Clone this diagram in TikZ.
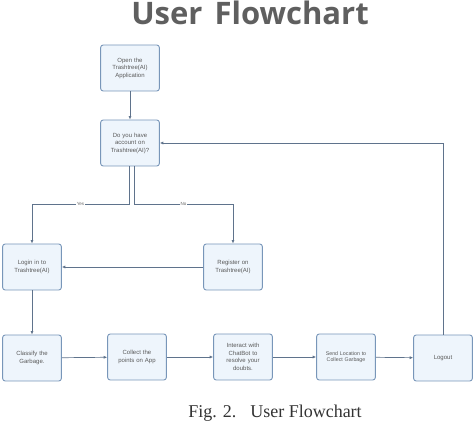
\documentclass[tikz,border=0pt]{standalone}
\usepackage{fontspec}
\setmainfont{Liberation Serif}
\newfontfamily\boxfont{Liberation Sans}
\newfontfamily\titlefont{Open Sans}
\usetikzlibrary{arrows.meta}
\definecolor{boxline}{RGB}{120,150,185}
\definecolor{boxfill}{RGB}{238,245,252}
\definecolor{wire}{RGB}{95,115,140}
\definecolor{titlegray}{RGB}{95,95,95}
\begin{document}
\begin{tikzpicture}[x=1pt,y=-1pt,
    stepbox/.style={draw=boxline,fill=boxfill,line width=0.9pt,rounded corners=2.5pt,
      minimum width=56pt,minimum height=46pt,align=center,text width=52pt,
      font=\boxfont\fontsize{6}{7.5}\selectfont,text=black!65},
    wire/.style={draw=wire,line width=0.7pt},
    tip/.style={wire,-{Latex[length=3.5pt,width=3pt]}},
    lbl/.style={fill=white,inner sep=0.5pt,font=\boxfont\fontsize{4.5}{4.5}\selectfont,text=black!60}]
  \useasboundingbox (0,0) rectangle (474,427);
  \node[font=\titlefont\bfseries\fontsize{31}{31}\selectfont,text=titlegray] (title) at (250,13) {User\hspace{12pt}Flowchart};
  \node[stepbox] (open) at (130,68) {Open the\\ Trashtree(AI)\\ Application};
  \node[stepbox] (ask) at (130,143) {Do you have\\ account on\\ Trashtree(AI)?};
  \node[stepbox] (login) at (32,267) {Login in to\\ Trashtree(AI)};
  \node[stepbox] (reg) at (233,267) {Register on\\ Trashtree(AI)};
  \node[stepbox] (classify) at (32,358) {Classify the\\ Garbage.};
  \node[stepbox] (collect) at (137,357) {Collect the\\ points on App};
  \node[stepbox] (chat) at (243,357) {Interact with\\ ChatBot to\\ resolve your\\ doubts.};
  \node[stepbox,font=\boxfont\fontsize{5.3}{6.5}\selectfont] (send) at (346,357) {Send Location to\\ Collect Garbage};
  \node[stepbox] (logout) at (443,358) {Logout};
  \node[font=\fontsize{18}{18}\selectfont,text=black!80] (cap) at (275,413) {Fig. 2.\hspace{14pt}User Flowchart};
  % decisions
  \coordinate (yes) at (129,204); \coordinate (no) at (134,204);
  \draw[tip] (open) -- (ask);
  \draw[tip] (yes|-ask.south) -- (yes) -| node[lbl,pos=0.25] {Yes} (login);
  \draw[tip] (no|-ask.south) -- (no) -| node[lbl,pos=0.25] {No} (reg);
  \draw[tip] (reg) -- (login);
  \draw[tip] (login) -- (classify);
  \foreach\a/\b in {classify/collect,collect/chat,chat/send,send/logout}
    \draw[tip] (\a) -- (\b);
  \draw[tip] (logout) |- (ask);
\end{tikzpicture}
\end{document}
